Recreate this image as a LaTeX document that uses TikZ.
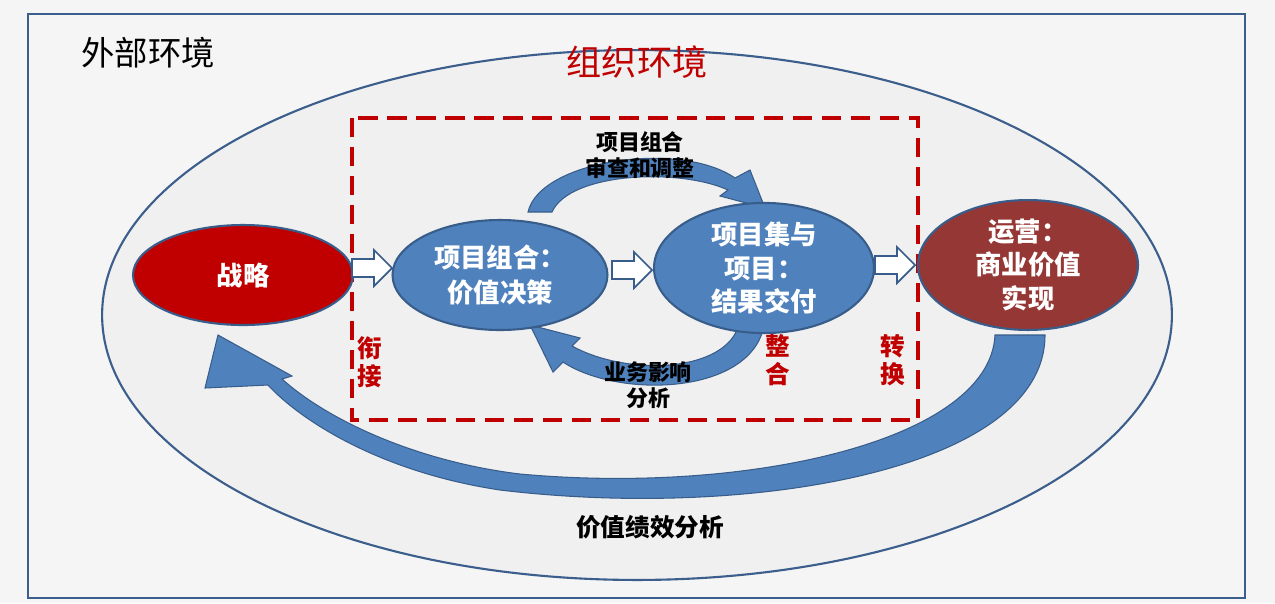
\documentclass[tikz,border=0pt]{standalone}
\usepackage{fontspec}
\setmainfont{Noto Sans CJK SC}
\usetikzlibrary{shapes.geometric,arrows.meta}
\definecolor{bluefill}{HTML}{4F81BD}
\definecolor{blueline}{HTML}{385D8A}
\definecolor{darkred}{HTML}{953735}
\definecolor{redfill}{HTML}{C00000}
\definecolor{frame}{HTML}{3B5E8C}
\tikzset{
  ell/.style={ellipse,draw=blueline,line width=1.2pt,text=white,align=center,font=\bfseries\fontsize{15}{18}\selectfont,inner sep=0pt},
  hollow/.style={draw=blueline,fill=white,line width=1pt},
  lbl/.style={align=center,font=\bfseries\fontsize{12.5}{15}\selectfont,inner sep=1pt},
  redlbl/.style={align=center,text=redfill,font=\bfseries\fontsize{14}{16}\selectfont,inner sep=1pt},
  curvarrow/.style={fill=bluefill,draw=blueline,line width=0.6pt}
}
\newcommand{\blockarrow}[2]{%
  \draw[hollow] (#1,#2-9) -- (#1+22,#2-9) -- (#1+22,#2-18) -- (#1+40,#2) -- (#1+22,#2+18) -- (#1+22,#2+9) -- (#1,#2+9) -- cycle;}
\begin{document}
\begin{tikzpicture}[x=0.02cm,y=-0.02cm]
\useasboundingbox (0,0) rectangle (1275,603);
\fill[gray!8] (0,0) rectangle (1275,603);
\draw[frame,line width=1.5pt] (28,14) rectangle (1245,598);
\node (outer) at (148,53) {\fontsize{19}{22}\selectfont 外部环境};
\node[ellipse,draw=frame,fill=gray!12,line width=1.2pt,minimum width=21.4cm,minimum height=10.6cm] (org) at (637,315) {};
\node[text=redfill] (orgt) at (637,62) {\fontsize{20}{24}\selectfont 组织环境};
\draw[redfill,dash pattern=on 11pt off 5.5pt,line width=2pt] (352,118) rectangle (918,420);
% big arrow
\draw[curvarrow] (1045,335) .. controls (1045,470) and (750,520) .. (500,490)
  .. controls (380,472) and (300,420) .. (268,385) -- (205,388) -- (218,335) -- (292,376) -- (282,379)
  .. controls (330,422) and (420,462) .. (520,474)
  .. controls (750,495) and (990,440) .. (995,335) -- cycle;
% top arrow
\draw[curvarrow] (528,212) .. controls (540,160) and (680,140) .. (735,178) -- (750,170) -- (765,208) -- (720,196) -- (728,190)
  .. controls (680,168) and (570,172) .. (552,212) -- cycle;
% bottom arrow
\draw[curvarrow] (765,318) .. controls (760,395) and (620,400) .. (563,362) -- (553,372) -- (530,325) -- (580,338) -- (572,346)
  .. controls (630,378) and (735,372) .. (740,318) -- cycle;
\node[ell,fill=redfill,minimum width=4.4cm,minimum height=2cm] (s) at (243,275) {战略};
\node[ell,fill=bluefill,minimum width=4.3cm,minimum height=2.2cm,font=\bfseries\fontsize{15}{20}\selectfont] (p) at (500,275) {项目组合：\\价值决策};
\node[ell,fill=bluefill,minimum width=4.4cm,minimum height=2.4cm,font=\bfseries\fontsize{15}{19}\selectfont] (g) at (764,268) {项目集与\\项目：\\结果交付};
\node[ell,fill=darkred,minimum width=4.4cm,minimum height=2.2cm,font=\bfseries\fontsize{15}{19}\selectfont] (o) at (1028,265) {运营：\\商业价值\\实现};
\blockarrow{352}{268}
\blockarrow{612}{270}
\blockarrow{875}{265}
\node[lbl] (t1) at (640,155) {项目组合\\审查和调整};
\node[lbl] (t2) at (648,385) {业务影响\\分析};
\node[lbl,font=\bfseries\fontsize{14}{17}\selectfont] (t3) at (650,527) {价值绩效分析};
\node[redlbl] (r1) at (370,362) {衔\\接};
\node[redlbl] (r2) at (778,360) {整\\合};
\node[redlbl] (r3) at (893,360) {转\\换};
\end{tikzpicture}
\end{document}
